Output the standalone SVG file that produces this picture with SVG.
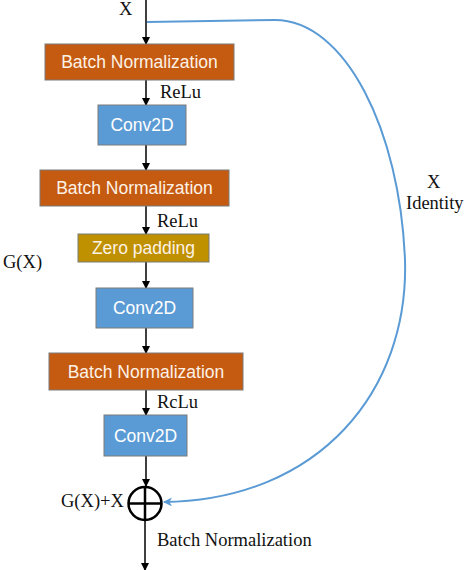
<svg xmlns="http://www.w3.org/2000/svg" width="474" height="570" viewBox="0 0 474 570">
<style>
.box rect{stroke:#7a7a7a;stroke-width:1}
.bn rect{fill:#c55a11}
.cv rect{fill:#5b9bd5}
.zp rect{fill:#bf9000}
.box text{font-family:"Liberation Sans",Arial,sans-serif;font-size:17.5px;text-anchor:middle;fill:#fdf2e6}
.cv text{fill:#ffffff}
.lbl{font-family:"Liberation Serif","Times New Roman",serif;font-size:18.5px;fill:#111}
.conn line{stroke:#000;stroke-width:1.5}
</style>
<defs>
<marker id="ah" markerWidth="8" markerHeight="8" refX="7" refY="4" orient="auto" markerUnits="userSpaceOnUse">
<path d="M0,0 L8,4 L0,8 Z" fill="#000"/>
</marker>
<marker id="ahb" markerWidth="9" markerHeight="9" refX="8" refY="4.5" orient="auto" markerUnits="userSpaceOnUse">
<path d="M0,0 L9,4.5 L0,9 L2.5,4.5 Z" fill="#5b9bd5"/>
</marker>
</defs>
<g id="connectors" class="conn">
<line x1="146" y1="0" x2="146" y2="44" marker-end="url(#ah)"/>
<line x1="146" y1="80" x2="146" y2="105" marker-end="url(#ah)"/>
<line x1="146" y1="145" x2="146" y2="170" marker-end="url(#ah)"/>
<line x1="146" y1="206" x2="146" y2="234" marker-end="url(#ah)"/>
<line x1="146" y1="262" x2="146" y2="288" marker-end="url(#ah)"/>
<line x1="146" y1="328" x2="146" y2="353" marker-end="url(#ah)"/>
<line x1="146" y1="390" x2="146" y2="415" marker-end="url(#ah)"/>
<line x1="146" y1="456" x2="146" y2="486" marker-end="url(#ah)"/>
<line x1="145" y1="520" x2="145" y2="570" marker-end="url(#ah)"/>
<path d="M147,22 L275,20 C345,20 400,130 405,260 C409,390 320,500 164,502" fill="none" stroke="#5b9bd5" stroke-width="2" marker-end="url(#ahb)"/>
</g>
<g id="bn1" class="box bn"><rect x="45" y="44" width="189" height="36"/><text x="139.5" y="68">Batch Normalization</text></g>
<g id="conv1" class="box cv"><rect x="98" y="105" width="88" height="40"/><text x="142" y="131">Conv2D</text></g>
<g id="bn2" class="box bn"><rect x="40" y="170" width="189" height="36"/><text x="134.5" y="194">Batch Normalization</text></g>
<g id="zp" class="box zp"><rect x="78" y="234" width="131" height="28"/><text x="143.5" y="254">Zero padding</text></g>
<g id="conv2" class="box cv"><rect x="96" y="288" width="97" height="40"/><text x="144.5" y="314">Conv2D</text></g>
<g id="bn3" class="box bn"><rect x="49" y="353" width="194" height="37"/><text x="146" y="378">Batch Normalization</text></g>
<g id="conv3" class="box cv"><rect x="104" y="415" width="83" height="41"/><text x="145.5" y="442">Conv2D</text></g>
<g id="sum">
<circle cx="145" cy="503.5" r="16.5" fill="none" stroke="#000" stroke-width="2.5"/>
<line x1="128.5" y1="503.5" x2="161.5" y2="503.5" stroke="#000" stroke-width="2.5"/>
<line x1="145" y1="487" x2="145" y2="520" stroke="#000" stroke-width="2.5"/>
</g>
<g id="labels">
<text class="lbl" x="119" y="15">X</text>
<text class="lbl" x="160" y="98">ReLu</text>
<text class="lbl" x="157" y="227">ReLu</text>
<text class="lbl" x="157" y="408">RcLu</text>
<text class="lbl" x="3" y="268" font-size="17">G(X)</text>
<text class="lbl" x="61" y="507" font-size="17">G(X)+X</text>
<text class="lbl" x="157" y="546">Batch Normalization</text>
<text class="lbl" x="427" y="188">X</text>
<text class="lbl" x="406" y="209">Identity</text>
</g>
</svg>
